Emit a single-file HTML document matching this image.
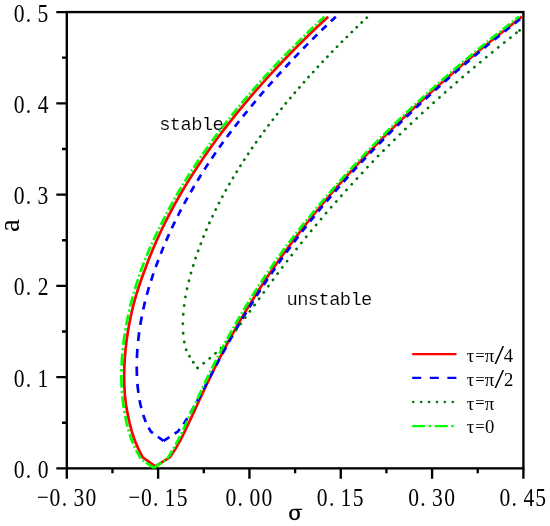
<!DOCTYPE html>
<html><head><meta charset="utf-8"><title>Stability boundaries</title>
<style>html,body{margin:0;padding:0;background:#fff}svg{display:block}</style></head>
<body>
<svg width="550" height="526" viewBox="0 0 550 526">
<rect width="550" height="526" fill="#fff"/>
<g stroke="#000" stroke-width="2.35" fill="none" stroke-linecap="butt">
<rect x="66.80" y="12.06" width="456.60" height="456.29"/>
<path d="M56.30,468.35 H66.80 M62.00,422.72 H66.80 M56.30,377.09 H66.80 M62.00,331.46 H66.80 M56.30,285.83 H66.80 M62.00,240.20 H66.80 M56.30,194.58 H66.80 M62.00,148.95 H66.80 M56.30,103.32 H66.80 M62.00,57.69 H66.80 M56.30,12.06 H66.80 M66.80,468.35 V478.85 M112.46,468.35 V473.15 M158.12,468.35 V478.85 M203.78,468.35 V473.15 M249.44,468.35 V478.85 M295.10,468.35 V473.15 M340.76,468.35 V478.85 M386.42,468.35 V473.15 M432.08,468.35 V478.85 M477.74,468.35 V473.15 M523.40,468.35 V478.85"/>
</g>
<defs><clipPath id="clip"><rect x="66.80" y="12.06" width="457.40" height="457.29"/></clipPath></defs>
<g clip-path="url(#clip)">
<path d="M328.16,16.66 L323.27,21.22 L313.65,30.34 L304.27,39.46 L295.11,48.58 L286.19,57.70 L277.49,66.82 L269.03,75.94 L260.80,85.06 L252.80,94.18 L245.03,103.30 L237.49,112.42 L230.19,121.54 L223.12,130.66 L216.29,139.78 L209.69,148.90 L203.32,158.02 L197.20,167.14 L191.31,176.26 L185.66,185.38 L180.25,194.50 L175.07,203.62 L170.14,212.74 L165.46,221.86 L161.01,230.98 L156.82,240.10 L152.86,249.22 L149.16,258.34 L145.71,267.46 L142.34,276.58 L139.17,285.70 L136.25,294.82 L133.68,303.94 L131.50,313.06 L129.60,322.18 L127.96,331.30 L126.61,340.42 L125.54,349.54 L124.77,358.66 L124.31,367.78 L124.16,376.90 L124.35,386.02 L124.88,395.14 L125.92,404.26 L127.51,413.38 L129.49,422.50 L131.82,431.62 L134.84,440.74 L138.86,449.86 L142.71,457.43 L155.32,466.36 L169.60,457.43 L174.86,449.86 L180.03,440.74 L184.64,431.62 L189.00,422.50 L193.24,413.38 L197.45,404.26 L201.67,395.14 L205.96,386.02 L210.33,376.90 L214.80,367.78 L219.40,358.66 L224.12,349.54 L228.99,340.42 L234.01,331.30 L239.19,322.18 L244.53,313.06 L250.04,303.94 L255.72,294.82 L261.58,285.70 L267.61,276.58 L273.83,267.46 L280.24,258.34 L286.82,249.22 L293.60,240.10 L300.57,230.98 L307.73,221.86 L315.09,212.74 L322.64,203.62 L330.38,194.50 L338.33,185.38 L346.47,176.26 L354.81,167.14 L363.35,158.02 L372.09,148.90 L381.03,139.78 L390.18,130.66 L399.53,121.54 L409.08,112.42 L418.84,103.30 L428.80,94.18 L438.97,85.06 L449.34,75.94 L459.92,66.82 L470.71,57.70 L481.71,48.58 L492.91,39.46 L504.32,30.34 L515.93,21.22 L521.82,16.66" fill="none" stroke="#ff0000" stroke-width="2.70" stroke-linejoin="miter"/>
<path d="M163.50,440.92 L157.84,436.78 M152.94,433.19 L150.80,431.62 L148.67,427.65 M145.76,422.06 L143.19,414.84 M141.34,408.18 L140.34,404.26 L139.60,400.13 M138.42,392.81 L137.60,386.02 L137.45,383.97 M136.93,375.99 L136.72,367.78 L136.74,366.42 M136.90,358.07 L137.35,349.54 L137.42,348.80 M138.12,340.99 L139.18,332.26 M140.31,324.88 L140.73,322.18 L141.79,316.57 M143.24,309.51 L144.46,303.94 L145.08,301.55 M146.81,294.79 L149.02,287.20 M151.05,280.73 L152.39,276.58 L153.50,273.38 M155.71,267.09 L158.39,259.96 M160.76,253.84 L162.58,249.22 L163.57,246.85 M166.09,240.87 L169.11,234.08 M171.79,228.27 L174.83,221.86 L174.95,221.63 M177.79,215.97 L179.41,212.74 L181.13,209.50 M184.07,203.95 L187.56,197.64 M190.64,192.22 L194.25,186.02 M197.45,180.73 L200.18,176.26 L201.19,174.66 M204.49,169.47 L205.97,167.14 L208.35,163.53 M211.74,158.41 L215.72,152.60 M219.21,147.58 L223.29,141.86 M226.90,136.98 L231.12,131.40 M234.84,126.62 L238.82,121.54 L239.15,121.13 M242.95,116.43 L246.20,112.42 L247.35,111.02 M251.18,106.35 L253.68,103.30 L255.62,101.00 M259.50,96.38 L261.35,94.18 L264.02,91.10 M267.97,86.54 L269.25,85.06 L272.57,81.34 M276.57,76.85 L277.38,75.94 L281.25,71.72 M285.31,67.29 L290.06,62.24 M294.19,57.86 L299.00,52.88 M303.18,48.56 L308.06,43.64 M312.30,39.38 L317.24,34.52 M321.53,30.31 L326.53,25.51 M330.87,21.35 L335.85,16.66 M163.50,440.92 L169.44,437.06 M174.58,433.70 L177.77,431.62 L179.72,429.04 M183.36,424.18 L184.63,422.50 L187.25,418.28 M190.50,413.02 L194.04,406.76 M197.07,401.29 L200.40,395.14 L200.51,394.93 M203.45,389.37 L205.22,386.02 L206.84,382.96 M209.77,377.39 L213.16,370.98 M216.11,365.44 L219.54,359.06 M222.53,353.55 L224.73,349.54 L226.01,347.23 M229.05,341.77 L229.81,340.42 L232.60,335.52 M235.70,330.12 L239.32,323.94 M242.49,318.61 L245.83,313.06 L246.18,312.50 M249.42,307.24 L251.46,303.94 L253.19,301.21 M256.49,296.01 L257.25,294.82 L260.35,290.07 M263.71,284.93 L267.65,279.07 M271.09,274.01 L275.09,268.21 M278.60,263.22 L282.06,258.34 L282.68,257.50 M286.26,252.58 L288.70,249.22 L290.41,246.93 M294.05,242.07 L295.53,240.10 L298.29,236.51 M301.98,231.70 L306.29,226.21 M310.04,221.46 L314.43,216.05 M318.24,211.36 L322.69,206.01 M326.57,201.39 L331.07,196.09 M335.01,191.53 L339.58,186.30 M343.58,181.80 L348.20,176.62 M352.26,172.18 L356.86,167.14 L356.94,167.06 M361.05,162.67 L365.40,158.02 L365.79,157.61 M369.95,153.27 L374.13,148.90 L374.75,148.27 M378.95,143.97 L383.06,139.78 L383.81,139.03 M388.06,134.78 L392.19,130.66 L392.97,129.89 M397.27,125.69 L401.51,121.54 L402.23,120.85 M406.58,116.70 L411.04,112.42 L411.59,111.91 M415.98,107.80 L420.77,103.30 L421.04,103.06 M425.47,98.99 L430.58,94.30 M435.05,90.27 L440.21,85.63 M444.72,81.64 L449.92,77.04 M454.47,73.09 L459.72,68.54 M464.30,64.62 L469.60,60.12 M474.22,56.24 L479.56,51.78 M484.21,47.93 L489.60,43.52 M494.27,39.69 L499.71,35.33 M504.42,31.54 L505.92,30.34 L509.89,27.21 M514.64,23.46 L517.48,21.22 L520.13,19.16" fill="none" stroke="#0000ff" stroke-width="2.70" stroke-linecap="butt" stroke-linejoin="round"/>
<path d="M197.50,368.05 L197.38,367.88 M193.40,362.36 L193.27,362.18 M189.56,356.39 L189.46,356.20 M186.21,349.94 L186.11,349.74 M184.29,342.07 L184.23,341.82 M183.20,333.35 L183.18,333.08 M182.89,323.86 L182.89,323.57 M183.26,314.48 L183.28,314.20 M184.13,305.55 L184.16,305.28 M185.42,297.04 L185.46,296.78 M187.04,288.86 L187.09,288.61 M188.90,280.92 L188.96,280.68 M190.97,273.19 L191.04,272.96 M193.21,265.63 L193.28,265.40 M195.60,258.21 L195.67,257.99 M198.10,250.92 L198.18,250.70 M200.75,243.76 L200.83,243.54 M203.50,236.72 L203.59,236.51 M206.37,229.79 L206.46,229.58 M209.37,222.98 L209.46,222.77 M212.47,216.29 L212.57,216.09 M215.67,209.69 L215.77,209.49 M218.94,203.16 L219.05,202.96 M222.33,196.75 L222.44,196.56 M225.80,190.42 L225.91,190.23 M229.33,184.15 L229.44,183.96 M232.95,177.97 L233.07,177.78 M236.65,171.87 L236.77,171.69 M240.41,165.83 L240.52,165.64 M244.24,159.86 L244.36,159.68 M248.14,153.96 L248.26,153.78 M252.09,148.10 L252.21,147.93 M256.11,142.33 L256.24,142.15 M260.19,136.61 L260.32,136.43 M264.31,130.93 L264.43,130.75 M268.51,125.33 L268.64,125.15 M272.74,119.76 L272.87,119.59 M277.03,114.25 L277.16,114.08 M281.37,108.79 L281.51,108.63 M285.75,103.36 L285.88,103.20 M290.22,98.04 L290.36,97.87 M294.72,92.74 L294.86,92.58 M299.28,87.50 L299.42,87.34 M303.88,82.30 L304.02,82.14 M308.50,77.12 L308.64,76.96 M313.16,71.98 L313.31,71.83 M317.84,66.86 L317.98,66.70 M322.58,61.80 L322.73,61.65 M327.34,56.76 L327.49,56.60 M332.15,51.77 L332.30,51.62 M336.98,46.80 L337.13,46.65 M341.86,41.88 L342.01,41.73 M346.77,36.99 L346.92,36.84 M351.71,32.13 L351.86,31.98 M356.69,27.30 L356.84,27.16 M361.69,22.50 L361.84,22.36 M366.72,17.74 L366.87,17.59 M197.50,368.05 L197.67,367.92 M203.60,363.26 L203.77,363.12 M209.69,358.44 L209.85,358.30 M215.45,353.30 L215.61,353.16 M221.03,347.98 L221.17,347.82 M226.13,342.18 L226.27,342.02 M231.04,336.19 L231.17,336.02 M235.85,330.10 L235.98,329.93 M240.55,323.90 L240.68,323.73 M245.21,317.66 L245.34,317.49 M249.84,311.39 L249.97,311.22 M254.46,305.11 L254.59,304.94 M259.06,298.81 L259.19,298.64 M263.66,292.51 L263.79,292.34 M268.26,286.22 L268.39,286.04 M272.89,279.95 L273.02,279.77 M277.54,273.69 L277.67,273.52 M282.21,267.46 L282.34,267.29 M286.93,261.28 L287.06,261.11 M291.69,255.14 L291.82,254.97 M296.48,249.03 L296.61,248.87 M301.32,242.97 L301.46,242.81 M306.19,236.94 L306.33,236.78 M311.09,230.94 L311.22,230.78 M316.04,224.99 L316.18,224.83 M321.02,219.07 L321.16,218.91 M326.03,213.18 L326.17,213.02 M331.09,207.34 L331.23,207.18 M336.18,201.53 L336.32,201.37 M341.30,195.75 L341.44,195.59 M346.47,190.02 L346.61,189.87 M351.66,184.31 L351.80,184.16 M356.88,178.63 L357.02,178.47 M362.11,172.97 L362.26,172.81 M367.36,167.31 L367.51,167.16 M372.68,161.73 L372.82,161.57 M378.02,156.17 L378.17,156.02 M383.43,150.68 L383.58,150.53 M388.88,145.23 L389.03,145.08 M394.34,139.80 L394.50,139.65 M399.87,134.42 L400.02,134.27 M405.40,129.06 L405.56,128.91 M410.98,123.73 L411.13,123.59 M416.59,118.44 L416.74,118.30 M422.22,113.17 L422.38,113.03 M427.90,107.95 L428.06,107.81 M433.59,102.74 L433.75,102.60 M439.33,97.58 L439.49,97.44 M445.08,92.44 L445.24,92.30 M450.87,87.33 L451.03,87.19 M456.69,82.25 L456.85,82.11 M462.53,77.19 L462.70,77.05 M468.41,72.17 L468.58,72.03 M474.31,67.16 L474.47,67.02 M480.24,62.20 L480.41,62.06 M486.19,57.24 L486.36,57.11 M492.18,52.33 L492.35,52.20 M498.18,47.44 L498.35,47.30 M504.22,42.58 L504.39,42.44 M510.28,37.73 L510.45,37.60 M516.37,32.92 L516.53,32.79 M519.48,30.46 L519.63,30.34" fill="none" stroke="#007308" stroke-width="2.70" stroke-linecap="round" stroke-linejoin="round"/>
<path d="M153.84,467.93 L146.14,462.62 M144.07,461.20 L142.59,460.18 M140.66,458.61 L136.06,450.21 M134.98,447.79 L134.22,446.05 M133.16,443.60 L131.92,440.74 L129.71,434.06 M128.84,431.42 L128.33,429.44 M127.61,426.66 L126.54,422.50 L125.22,416.05 M124.63,413.14 L124.29,410.97 M123.82,407.95 L123.25,404.26 L122.37,396.40 M122.09,393.17 L121.93,390.84 M121.70,387.57 L121.59,386.02 L121.34,376.90 L121.37,374.96 M121.43,371.52 L121.47,369.06 M121.60,365.69 L121.96,358.66 L122.40,353.48 M122.67,350.26 L122.91,348.00 M123.27,344.86 L123.79,340.42 L124.83,333.41 M125.30,330.39 L125.68,328.27 M126.21,325.30 L126.77,322.18 L128.37,314.46 M129.01,311.60 L129.49,309.58 M130.16,306.75 L130.83,303.94 L132.84,296.42 M133.60,293.69 L134.17,291.76 M134.97,289.05 L135.96,285.70 L138.07,279.16 M138.93,276.52 L139.58,274.67 M140.49,272.08 L142.11,267.46 L143.98,262.57 M144.95,260.03 L145.59,258.34 L145.64,258.23 M146.68,255.76 L149.43,249.22 L150.57,246.66 M151.66,244.24 L152.43,242.52 M153.51,240.10 L157.70,231.29 M158.84,228.93 L159.66,227.25 M160.81,224.90 L162.29,221.86 L165.16,216.25 M166.35,213.93 L166.96,212.74 L167.20,212.29 M168.43,210.01 L171.87,203.62 L173.01,201.60 M174.27,199.36 L175.18,197.76 M176.44,195.53 L177.02,194.50 L181.25,187.34 M182.56,185.15 L183.51,183.60 M184.85,181.44 L188.04,176.26 L189.86,173.44 M191.23,171.31 L192.21,169.79 M193.58,167.66 L198.78,159.87 M200.19,157.78 L201.21,156.30 M202.65,154.24 L206.36,148.90 L208.02,146.60 M209.48,144.57 L210.53,143.12 M212.00,141.08 L212.94,139.78 L217.53,133.62 M219.03,131.62 L219.75,130.66 L220.11,130.19 M221.63,128.22 L226.79,121.54 L227.31,120.89 M228.86,118.95 L229.97,117.56 M231.52,115.61 L234.07,112.42 L237.35,108.44 M238.93,106.52 L240.06,105.15 M241.64,103.23 L247.61,96.20 M249.22,94.30 L250.38,92.97 M252.01,91.10 L257.29,85.06 L258.09,84.18 M259.75,82.33 L260.93,81.02 M262.59,79.18 L265.50,75.94 L268.79,72.38 M270.47,70.56 L271.68,69.26 M273.36,67.44 L279.68,60.77 M281.39,58.98 L282.60,57.70 L282.61,57.69 M284.33,55.92 L290.75,49.34 M292.49,47.58 L293.74,46.33 M295.50,44.58 L300.62,39.46 L302.01,38.10 M303.79,36.37 L305.05,35.14 M306.82,33.41 L309.97,30.34 L313.45,27.04 M315.24,25.33 L316.52,24.11 M318.31,22.40 L319.56,21.22 L324.43,16.66 M153.84,467.93 L161.63,462.71 M163.72,461.31 L165.22,460.31 M167.27,458.86 L172.20,450.79 M173.48,448.56 L174.36,446.95 M175.61,444.69 L177.78,440.74 L180.06,436.14 M181.22,433.80 L182.05,432.13 M183.17,429.76 L186.59,422.50 L187.32,420.91 M188.43,418.51 L189.21,416.80 M190.32,414.40 L190.78,413.38 L194.40,405.48 M195.50,403.08 L196.28,401.37 M197.39,398.97 L199.15,395.14 L201.51,390.09 M202.62,387.71 L203.41,386.02 L203.42,386.00 M204.55,383.63 L207.76,376.90 L208.76,374.85 M209.91,372.49 L210.73,370.81 M211.88,368.46 L216.21,359.80 M217.39,357.48 L218.24,355.83 M219.44,353.52 L221.49,349.54 L223.91,345.00 M225.12,342.71 L225.99,341.08 M227.23,338.81 L231.35,331.30 L231.84,330.43 M233.11,328.19 L234.01,326.60 M235.27,324.36 L236.51,322.18 L240.04,316.13 M241.33,313.92 L242.26,312.35 M243.58,310.16 L247.33,303.94 L248.49,302.07 M249.83,299.91 L250.78,298.37 M252.13,296.21 L252.99,294.82 L257.18,288.27 M258.55,286.14 L259.54,284.63 M260.93,282.52 L264.85,276.58 L266.12,274.71 M267.54,272.63 L268.55,271.14 M269.97,269.05 L271.05,267.46 L275.30,261.39 M276.74,259.33 L277.44,258.34 L277.78,257.87 M279.25,255.83 L284.02,249.22 L284.71,248.30 M286.22,246.31 L287.30,244.88 M288.80,242.89 L290.91,240.10 L294.45,235.54 M295.98,233.57 L297.07,232.16 M298.61,230.20 L304.38,222.96 M305.94,221.03 L307.06,219.65 M308.64,217.73 L312.72,212.74 L314.52,210.60 M316.11,208.70 L317.25,207.34 M318.85,205.44 L320.38,203.62 L324.82,198.41 M326.43,196.52 L327.58,195.17 M329.21,193.29 L335.25,186.34 M336.89,184.47 L338.06,183.15 M339.71,181.30 L344.20,176.26 L345.86,174.44 M347.53,172.61 L348.72,171.31 M350.39,169.48 L352.52,167.14 L356.64,162.73 M358.33,160.92 L359.54,159.63 M361.23,157.82 L367.59,151.17 M369.30,149.38 L370.53,148.12 M372.26,146.35 L378.68,139.78 L378.69,139.77 M380.44,138.02 L381.69,136.77 M383.44,135.03 L387.81,130.66 L389.96,128.55 M391.73,126.82 L393.00,125.58 M394.77,123.85 L397.13,121.54 L401.38,117.47 M403.17,115.76 L404.45,114.54 M406.24,112.82 L412.94,106.53 M414.75,104.84 L416.04,103.63 M417.86,101.95 L424.64,95.73 M426.47,94.06 L427.79,92.87 M429.63,91.22 L436.47,85.06 M438.33,83.42 L439.66,82.25 M441.52,80.61 L446.82,75.94 L448.45,74.53 M450.33,72.91 L451.67,71.75 M453.54,70.13 L457.38,66.82 L460.55,64.13 M462.44,62.53 L463.79,61.38 M465.69,59.77 L468.14,57.70 L472.76,53.85 M474.67,52.26 L476.04,51.13 M477.95,49.54 L479.10,48.58 L485.10,43.69 M487.03,42.11 L488.40,40.99 M490.33,39.42 L497.55,33.63 M499.49,32.08 L500.88,30.96 M502.83,29.42 L510.10,23.69 M512.06,22.15 L513.24,21.22 L513.46,21.05 M515.43,19.52 L519.12,16.66" fill="none" stroke="#00ff00" stroke-width="2.70" stroke-linecap="butt" stroke-linejoin="round"/>
</g>
<g fill="#000">
<text font-family="Liberation Serif, Times New Roman, serif" font-size="24.80" transform="scale(0.871,1)" x="15.73 29.58 43.29" y="477.85">0.0</text>
<text font-family="Liberation Serif, Times New Roman, serif" font-size="24.80" transform="scale(0.871,1)" x="15.73 29.58 42.94" y="386.59">0.1</text>
<text font-family="Liberation Serif, Times New Roman, serif" font-size="24.80" transform="scale(0.871,1)" x="15.73 29.58 43.42" y="295.33">0.2</text>
<text font-family="Liberation Serif, Times New Roman, serif" font-size="24.80" transform="scale(0.871,1)" x="15.73 29.58 43.18" y="204.08">0.3</text>
<text font-family="Liberation Serif, Times New Roman, serif" font-size="24.80" transform="scale(0.871,1)" x="15.73 29.58 43.24" y="112.82">0.4</text>
<text font-family="Liberation Serif, Times New Roman, serif" font-size="24.80" transform="scale(0.871,1)" x="15.73 29.58 43.05" y="21.56">0.5</text>
<text font-family="Liberation Serif, Times New Roman, serif" font-size="24.80" transform="scale(0.871,1)" y="505.80"><tspan x="42.61" dy="-0.40" font-size="23.94">−</tspan><tspan x="56.95 70.79 84.39 98.28" y="505.80">0.30</tspan></text>
<text font-family="Liberation Serif, Times New Roman, serif" font-size="24.80" transform="scale(0.871,1)" y="505.80"><tspan x="147.46" dy="-0.40" font-size="23.94">−</tspan><tspan x="161.80 175.64 189.01 202.89" y="505.80">0.15</tspan></text>
<text font-family="Liberation Serif, Times New Roman, serif" font-size="24.80" transform="scale(0.871,1)" x="258.95 272.80 286.51 300.29" y="505.80">0.00</text>
<text font-family="Liberation Serif, Times New Roman, serif" font-size="24.80" transform="scale(0.871,1)" x="363.80 377.65 391.01 404.90" y="505.80">0.15</text>
<text font-family="Liberation Serif, Times New Roman, serif" font-size="24.80" transform="scale(0.871,1)" x="468.65 482.50 496.10 509.98" y="505.80">0.30</text>
<text font-family="Liberation Serif, Times New Roman, serif" font-size="24.80" transform="scale(0.871,1)" x="573.50 587.35 601.01 614.60" y="505.80">0.45</text>
<text font-family="DejaVu Serif, Liberation Serif, serif" font-size="21.00" x="295.40" y="520.30" text-anchor="middle" stroke="#000" stroke-width="0.35">σ</text>
<text font-family="Liberation Serif, Times New Roman, serif" font-size="29.00" text-anchor="middle" transform="translate(19.30,225.60) rotate(-90)">a</text>
<text font-family="Liberation Mono, Courier New, monospace" font-size="18.80" x="159.19 169.84 180.49 191.14 201.79 212.44" y="129.70" stroke="#fff" stroke-width="0.15">stable</text>
<text font-family="Liberation Mono, Courier New, monospace" font-size="18.80" x="286.54 297.19 307.84 318.49 329.14 339.79 350.44 361.09" y="305.10" stroke="#fff" stroke-width="0.15">unstable</text>
<text font-family="Liberation Serif, Times New Roman, serif" font-size="18.70"><tspan x="466.79" y="362.00">τ</tspan><tspan x="475.30" y="360.70" font-size="16.80">=</tspan><tspan x="484.84" y="362.00">π</tspan><tspan x="494.55" y="363.70" font-size="26.60" textLength="9.61" lengthAdjust="spacingAndGlyphs">/</tspan><tspan x="503.84" y="362.00">4</tspan></text>
<text font-family="Liberation Serif, Times New Roman, serif" font-size="18.70"><tspan x="466.79" y="385.80">τ</tspan><tspan x="475.30" y="384.50" font-size="16.80">=</tspan><tspan x="484.84" y="385.80">π</tspan><tspan x="494.55" y="387.50" font-size="26.60" textLength="9.61" lengthAdjust="spacingAndGlyphs">/</tspan><tspan x="503.98" y="385.80">2</tspan></text>
<text font-family="Liberation Serif, Times New Roman, serif" font-size="18.70"><tspan x="466.79" y="409.60">τ</tspan><tspan x="475.30" y="408.30" font-size="16.80">=</tspan><tspan x="484.84" y="409.60">π</tspan></text>
<text font-family="Liberation Serif, Times New Roman, serif" font-size="18.70"><tspan x="466.79" y="433.40">τ</tspan><tspan x="475.30" y="432.10" font-size="16.80">=</tspan><tspan x="484.88" y="433.40">0</tspan></text>
</g>
<path d="M412.20,354.20 L456.50,354.20" fill="none" stroke="#ff0000" stroke-width="2.20"/>
<path d="M412.20,377.80 L421.20,377.80 M429.80,377.80 L438.80,377.80 M447.40,377.80 L456.40,377.80" fill="none" stroke="#0000ff" stroke-width="2.20" stroke-linecap="butt"/>
<path d="M413.10,402.00 L413.40,402.00 M421.00,402.00 L421.30,402.00 M428.90,402.00 L429.20,402.00 M436.80,402.00 L437.10,402.00 M444.70,402.00 L445.00,402.00 M452.60,402.00 L452.90,402.00" fill="none" stroke="#007308" stroke-width="2.30" stroke-linecap="round"/>
<path d="M412.20,426.20 L425.20,426.20 M428.70,426.20 L431.20,426.20 M434.70,426.20 L447.70,426.20 M451.20,426.20 L453.70,426.20" fill="none" stroke="#00ff00" stroke-width="2.20" stroke-linecap="butt"/>
</svg>
</body></html>
